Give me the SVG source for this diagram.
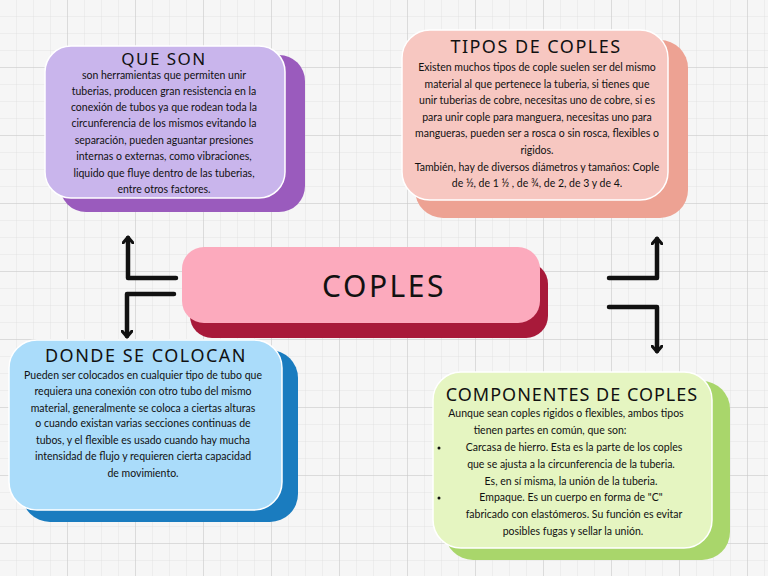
<svg xmlns="http://www.w3.org/2000/svg" width="768" height="576" viewBox="0 0 768 576">
<defs>
<pattern id="minor" width="17" height="17" patternUnits="userSpaceOnUse">
<path d="M17 0V17M0 17H17" fill="none" stroke="#dedede" stroke-width="0.7"/>
</pattern>
<pattern id="major" width="68" height="68" patternUnits="userSpaceOnUse">
<path d="M68 0V68M0 68H68" fill="none" stroke="#c4c4c4" stroke-width="0.9"/>
</pattern>
<marker id="head" viewBox="0 0 12 12" refX="6" refY="6" markerWidth="12" markerHeight="12" markerUnits="userSpaceOnUse" orient="auto">
<path d="M1 1L7 6L1 11" fill="none" stroke="#111" stroke-width="3" stroke-linecap="round" stroke-linejoin="round"/>
</marker>
</defs>
<style>
.t{font-family:"Noto Sans","Open Sans",sans-serif;font-size:18px;letter-spacing:1.5px;fill:#111;text-anchor:middle}
.b{font-family:Lato,"Noto Sans",sans-serif;font-size:10.5px;fill:#111;text-anchor:middle}
.f{stroke:#fff;stroke-width:1.5}
.ar{fill:none;stroke:#111;stroke-width:4.5;stroke-linecap:round;stroke-linejoin:round}
</style>
<rect width="768" height="576" fill="#f6f6f6"/>
<rect width="768" height="576" fill="url(#minor)"/>
<rect width="768" height="576" fill="url(#major)"/>

<g id="que-son">
<rect x="60" y="55" width="245" height="157" rx="26" fill="#9a5bbd"/>
<rect x="45" y="46" width="240" height="152" rx="26" fill="#c9b5ec" class="f"/>
<text class="t" x="164" y="65" style="font-size:17px">QUE SON</text>
<text class="b" x="164" y="79">son herramientas que permiten unir</text>
<text class="b" x="164" y="95">tuberias, producen gran resistencia en la</text>
<text class="b" x="164" y="111">conexión de tubos ya que rodean toda la</text>
<text class="b" x="164" y="127">circunferencia de los mismos evitando la</text>
<text class="b" x="164" y="144">separación, pueden aguantar presiones</text>
<text class="b" x="164" y="160">internas o externas, como vibraciones,</text>
<text class="b" x="164" y="177">liquido que fluye dentro de las tuberias,</text>
<text class="b" x="164" y="193">entre otros factores.</text>
</g>

<g id="tipos">
<rect x="415" y="40" width="273" height="178" rx="28" fill="#eda293"/>
<rect x="402" y="30" width="266" height="170" rx="28" fill="#f7c7c1" class="f"/>
<text class="t" x="536" y="53">TIPOS DE COPLES</text>
<text class="b" x="537" y="71">Existen muchos tipos de cople suelen ser del mismo</text>
<text class="b" x="537" y="88">material al que pertenece la tuberia, si tienes que</text>
<text class="b" x="537" y="104">unir tuberias de cobre, necesitas uno de cobre, si es</text>
<text class="b" x="537" y="121">para unir cople para manguera, necesitas uno para</text>
<text class="b" x="537" y="137">mangueras, pueden ser a rosca o sin rosca, flexibles o</text>
<text class="b" x="537" y="154">rigidos.</text>
<text class="b" x="537" y="171">También, hay de diversos diámetros y tamaños: Cople</text>
<text class="b" x="537" y="187">de ½, de 1 ½ , de ¾, de 2, de 3 y de 4.</text>
</g>

<g id="donde">
<rect x="22" y="350" width="276" height="172" rx="28" fill="#1a7cbf"/>
<rect x="9" y="340" width="273" height="170" rx="28" fill="#aadcfa" class="f"/>
<text class="t" x="146" y="362">DONDE SE COLOCAN</text>
<text class="b" x="143" y="379">Pueden ser colocados en cualquier tipo de tubo que</text>
<text class="b" x="143" y="395">requiera una conexión con otro tubo del mismo</text>
<text class="b" x="143" y="412">material, generalmente se coloca a ciertas alturas</text>
<text class="b" x="143" y="427">o cuando existan varias secciones continuas de</text>
<text class="b" x="143" y="444">tubos, y el flexible es usado cuando hay mucha</text>
<text class="b" x="143" y="460">intensidad de flujo y requieren cierta capacidad</text>
<text class="b" x="143" y="477">de movimiento.</text>
</g>

<g id="componentes">
<rect x="445" y="381" width="285" height="179" rx="28" fill="#a9d66b"/>
<rect x="433" y="372" width="279" height="176" rx="28" fill="#e5f5c1" class="f"/>
<text class="t" x="572" y="401" style="letter-spacing:1px">COMPONENTES DE COPLES</text>
<text class="b" x="566" y="417">Aunque sean coples rigidos o flexibles, ambos tipos</text>
<text class="b" x="550" y="434">tienen partes en común, que son:</text>
<circle cx="439" cy="448" r="1.5" fill="#111"/>
<text class="b" x="574" y="451">Carcasa de hierro. Esta es la parte de los coples</text>
<text class="b" x="571" y="468">que se ajusta a la circunferencia de la tuberia.</text>
<text class="b" x="571" y="485">Es, en sí misma, la unión de la tuberia.</text>
<circle cx="439" cy="498" r="1.5" fill="#111"/>
<text class="b" x="571" y="501">Empaque. Es un cuerpo en forma de "C"</text>
<text class="b" x="574" y="518">fabricado con elastómeros. Su función es evitar</text>
<text class="b" x="573" y="535">posibles fugas y sellar la unión.</text>
</g>

<g id="coples">
<rect x="190" y="262" width="358" height="76" rx="22" fill="#a81a3a"/>
<rect x="182" y="247" width="358" height="76" rx="22" fill="#fcaabd"/>
<text x="384" y="297" font-family="Noto Sans,sans-serif" font-size="30" letter-spacing="2.5" fill="#111" text-anchor="middle">COPLES</text>
</g>

<g id="connectors">
<path class="ar" d="M176 278H128V238" marker-end="url(#head)"/>
<path class="ar" d="M174 294H127V336" marker-end="url(#head)"/>
<path class="ar" d="M609 278H657V239" marker-end="url(#head)"/>
<path class="ar" d="M609 307H657V351" marker-end="url(#head)"/>
</g>
</svg>
